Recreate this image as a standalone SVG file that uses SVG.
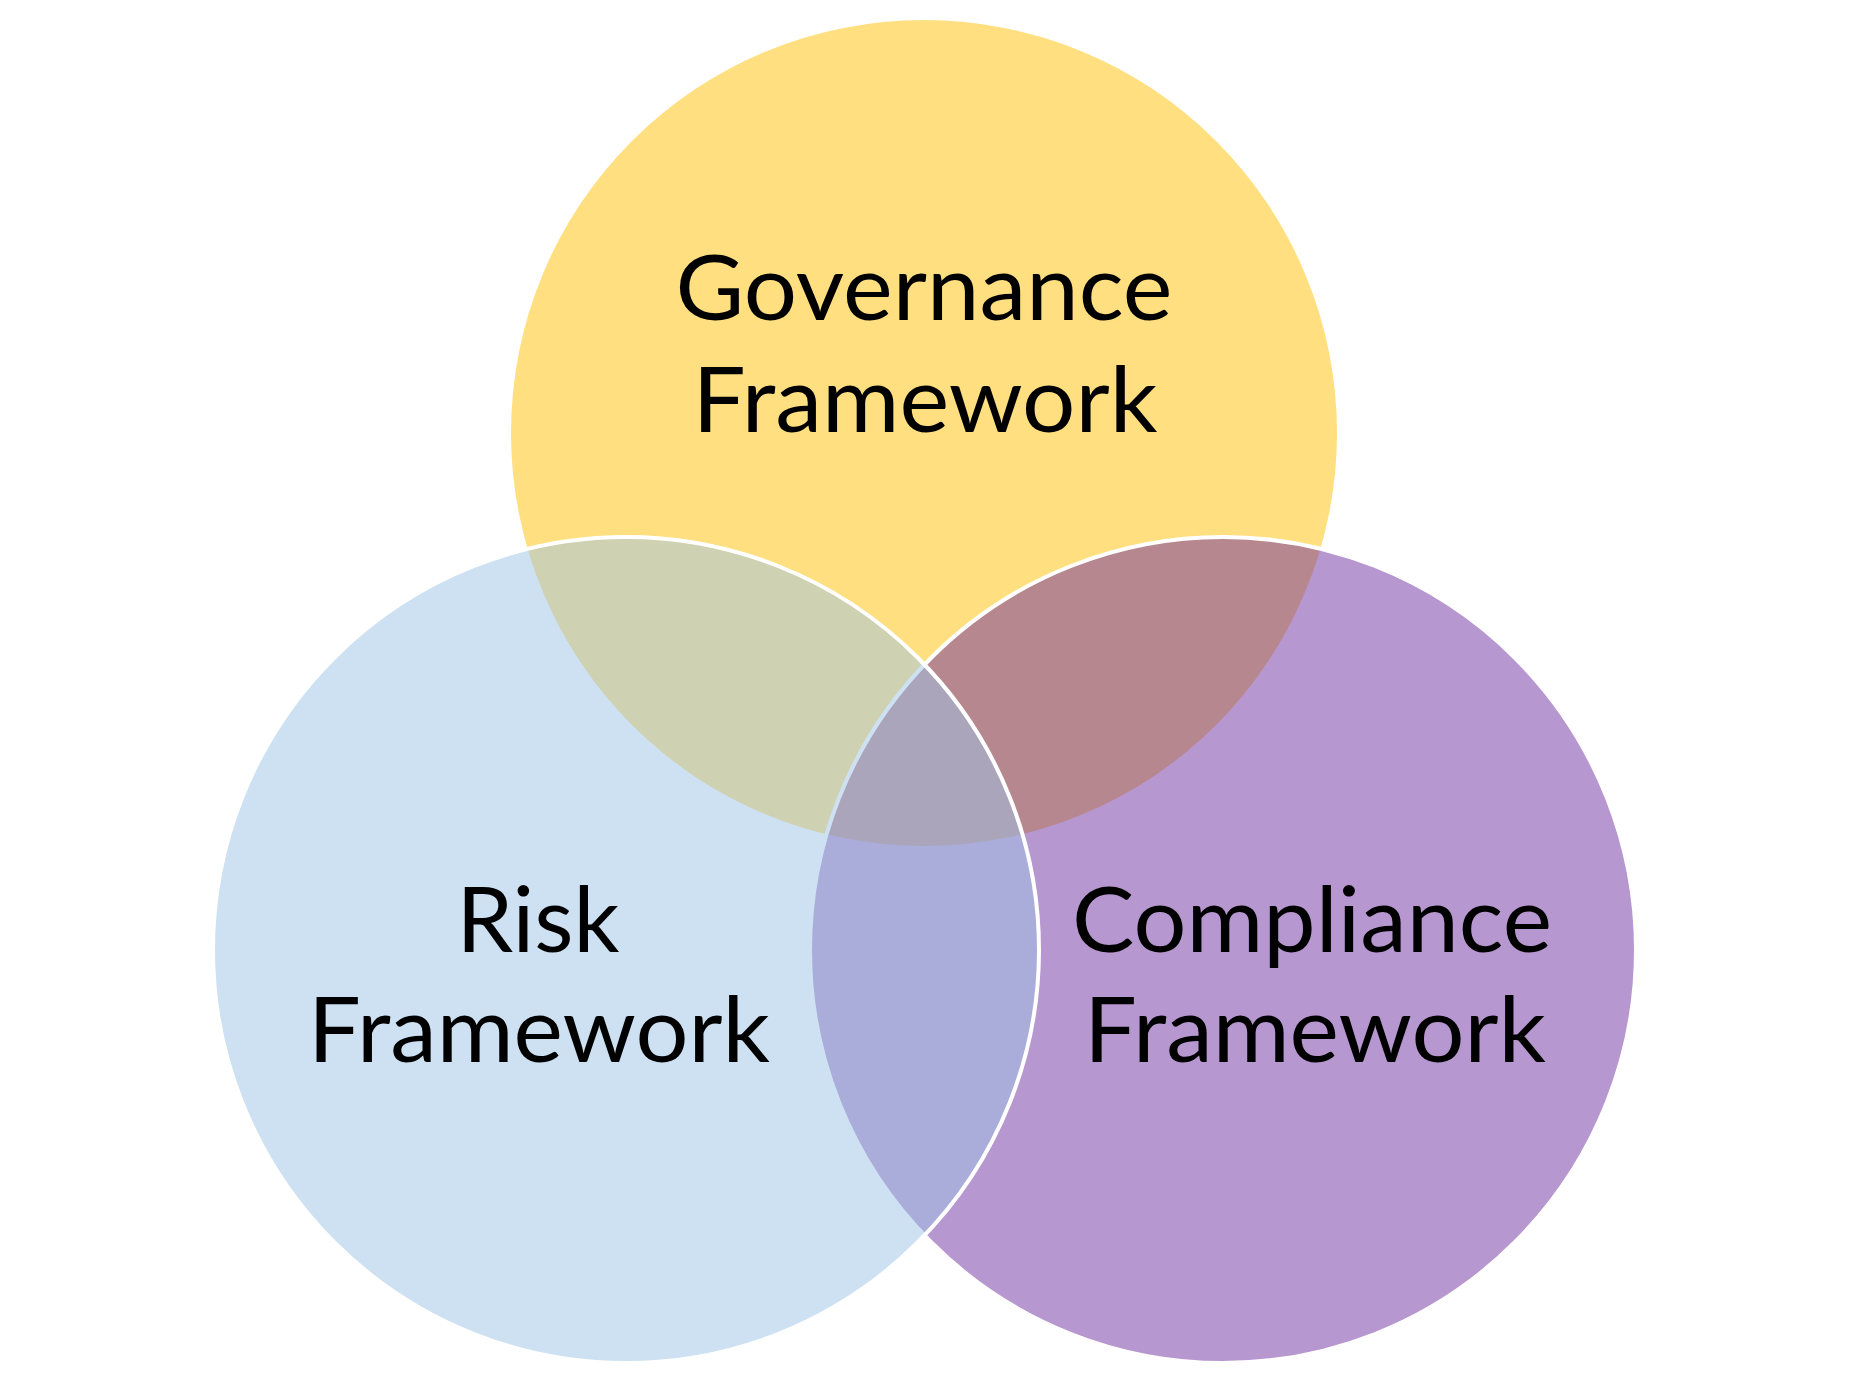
<svg xmlns="http://www.w3.org/2000/svg" width="1849" height="1385" viewBox="0 0 1849 1385">
  <style>
    .bg { fill: #ffffff; }
    .circle { fill-opacity: 0.5; }
    .edged { stroke: #ffffff; stroke-width: 4; }
    .label { font-family: Lato, "Liberation Sans", sans-serif; font-size: 92px; fill: #000000; text-anchor: middle; }
  </style>
  <rect class="bg" x="0" y="0" width="1849" height="1385"/>
  <g id="governance">
    <circle class="circle" cx="924" cy="433" r="413" fill="#FFC000"/>
    <text class="label" x="924" y="320" textLength="497" lengthAdjust="spacingAndGlyphs">Governance</text>
    <text class="label" x="925" y="432" textLength="465" lengthAdjust="spacingAndGlyphs">Framework</text>
  </g>
  <g id="compliance">
    <circle class="circle edged" cx="1223" cy="950" r="413" fill="#7030A0"/>
    <text class="label" x="1312" y="952" textLength="480" lengthAdjust="spacingAndGlyphs">Compliance</text>
    <text class="label" x="1315" y="1062" textLength="462" lengthAdjust="spacingAndGlyphs">Framework</text>
  </g>
  <g id="risk">
    <circle class="circle edged" cx="626" cy="950" r="413" fill="#9DC3E6"/>
    <text class="label" x="538" y="952" textLength="163" lengthAdjust="spacingAndGlyphs">Risk</text>
    <text class="label" x="539" y="1062" textLength="462" lengthAdjust="spacingAndGlyphs">Framework</text>
  </g>
  <g id="connectors"></g>
</svg>
